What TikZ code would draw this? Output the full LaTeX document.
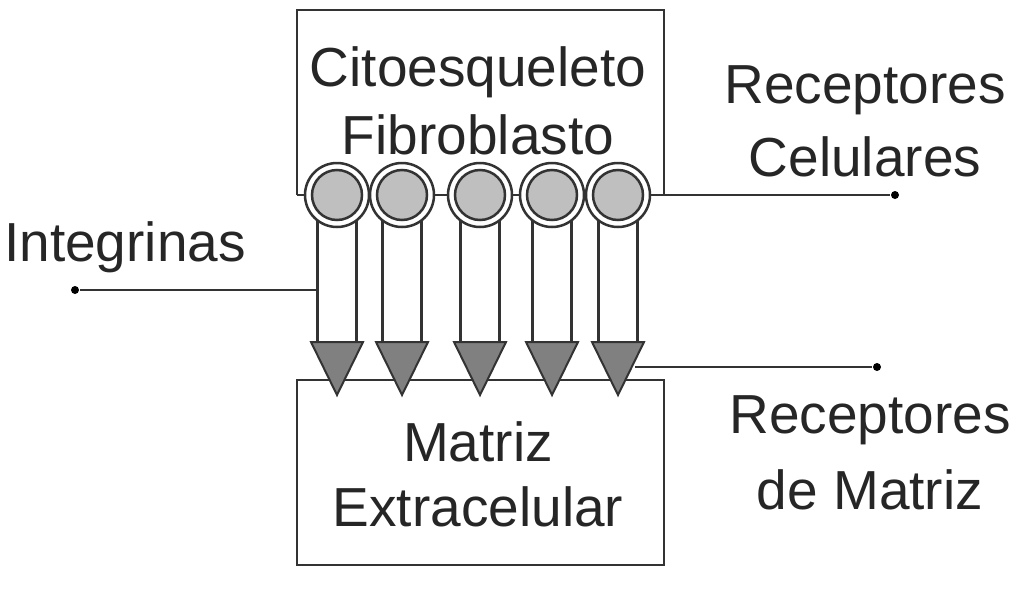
\documentclass[tikz,border=0pt]{standalone}
\usepackage{fontspec}
\setmainfont{Liberation Sans}
\begin{document}
\begin{tikzpicture}[x=1pt,y=-1pt,line width=2.2pt,
  lbl/.style={font=\fontsize{55}{60}\selectfont,text=black!85,inner sep=0},
  dot/.style={circle,fill=black,inner sep=0,minimum size=8pt},
  ring/.style={circle,draw=black!80,line width=2.5pt,minimum size=64pt,inner sep=0},
  core/.style={circle,draw=black!80,fill=black!25,line width=2.5pt,minimum size=50pt,inner sep=0},
  tri/.style={draw=black!80,fill=black!50,line width=2pt}]
\useasboundingbox (0,0) rectangle (1029,600);
\draw[black!80] (297,195) -- (297,10) -- (664,10) -- (664,195);
\draw[black!80] (297,195) -- (664,195);
\node[draw=black!80,minimum width=367pt,minimum height=185pt,inner sep=0] (mat) at (480.5,472.5) {};
\foreach \i/\x in {1/337,2/402,3/480,4/552,5/618}{
  \fill[white] (\x-19.5,220) rectangle (\x+19.5,345);
  \draw[black!80] (\x-19.5,220) -- (\x-19.5,343) (\x+19.5,220) -- (\x+19.5,343);
  \draw[tri] (\x-26,342) -- (\x+26,342) -- (\x,395) -- cycle;
  \node[ring,fill=white] (r\i) at (\x,195) {};
  \node[core] (c\i) at (\x,195) {};
}
\node[lbl] (t1) at (478,72) {Citoesqueleto};
\node[lbl] (t2) at (478,135) {Fibroblasto};
\node[lbl] (b1) at (478,442) {Matriz};
\node[lbl] (b2) at (478,507) {Extracelular};
\node[lbl] (int) at (125,247) {Integrinas};
\node[lbl] (rc1) at (865,90) {Receptores};
\node[lbl] (rc2) at (865,157) {Celulares};
\node[lbl] (rm1) at (870,420) {Receptores};
\node[lbl] (rm2) at (870,490) {de Matriz};
\node[dot] (d1) at (75,290) {};
\node[dot] (d2) at (895,195) {};
\node[dot] (d3) at (877,367) {};
\coordinate (e1) at (317,290);
\coordinate (e2) at (650,195);
\coordinate (e3) at (635,367);
\draw[black!80] (d1) -- (e1);
\draw[black!80] (e2) -- (d2);
\draw[black!80] (e3) -- (d3);
\end{tikzpicture}
\end{document}
